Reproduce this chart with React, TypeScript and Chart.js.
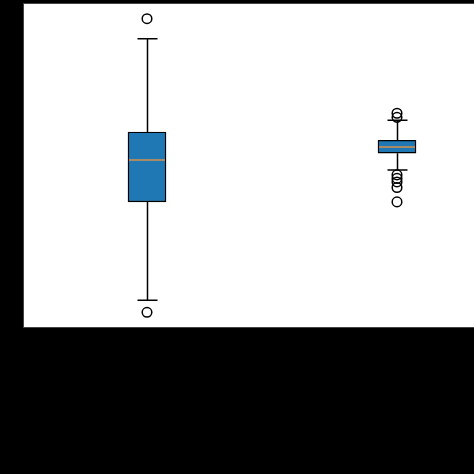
import { useEffect, useRef } from 'react'
import { Chart, registerables } from 'chart.js'

Chart.register(...registerables)

// box positions on the x axis
const positions = [1, 2]

// five-number summaries
const whiskerLow = [0.41, 4.85]
const q1 = [3.76, 5.42]
const median = [5.19, 5.63]
const q3 = [6.14, 5.86]
const whiskerHigh = [9.32, 6.54]

// fliers per box
const outliersA = [10.0, 0.0]
const outliersB = [6.78, 6.64, 4.68, 4.56, 4.44, 4.25, 3.76]

const boxFill = '#1f77b4'
const medianColor = '#d9904a'

const boxPlotPlugin = {
  id: 'boxPlotExtras',
  beforeDraw(chart: any) {
    const { ctx, chartArea } = chart
    ctx.save()
    ctx.fillStyle = '#000'
    ctx.fillRect(0, 0, chart.width, chart.height)
    ctx.fillStyle = '#fff'
    ctx.fillRect(chartArea.left, chartArea.top, chartArea.right - chartArea.left, chartArea.bottom - chartArea.top)
    ctx.restore()
  },
  beforeDatasetsDraw(chart: any) {
    const { ctx } = chart
    const x = chart.scales.x
    const y = chart.scales.y
    ctx.save()
    ctx.strokeStyle = '#000'
    ctx.lineWidth = 1.5
    positions.forEach((p, i) => {
      const cx = Math.round(x.getPixelForValue(p)) + 0.5
      const capHalf = 10
      ctx.beginPath()
      ctx.moveTo(cx, y.getPixelForValue(q3[i]))
      ctx.lineTo(cx, y.getPixelForValue(whiskerHigh[i]))
      ctx.moveTo(cx, y.getPixelForValue(q1[i]))
      ctx.lineTo(cx, y.getPixelForValue(whiskerLow[i]))
      ctx.moveTo(cx - capHalf, y.getPixelForValue(whiskerHigh[i]))
      ctx.lineTo(cx + capHalf, y.getPixelForValue(whiskerHigh[i]))
      ctx.moveTo(cx - capHalf, y.getPixelForValue(whiskerLow[i]))
      ctx.lineTo(cx + capHalf, y.getPixelForValue(whiskerLow[i]))
      ctx.stroke()
    })
    ctx.restore()
  },
  afterDatasetsDraw(chart: any) {
    const { ctx, chartArea } = chart
    const x = chart.scales.x
    const y = chart.scales.y
    ctx.save()
    ctx.strokeStyle = medianColor
    ctx.lineWidth = 1.5
    positions.forEach((p, i) => {
      const cx = x.getPixelForValue(p)
      const my = y.getPixelForValue(median[i])
      ctx.beginPath()
      ctx.moveTo(cx - 18, my)
      ctx.lineTo(cx + 18, my)
      ctx.stroke()
    })
    ctx.strokeStyle = '#444'
    ctx.lineWidth = 1
    ctx.strokeRect(chartArea.left - 0.5, chartArea.top - 0.5, chartArea.right - chartArea.left + 1, chartArea.bottom - chartArea.top + 1)
    ctx.restore()
  }
}

export default function App() {
  const chartRef = useRef<HTMLCanvasElement>(null)
  const chartInstance = useRef<Chart | null>(null)

  useEffect(() => {
    if (!chartRef.current) return
    if (chartInstance.current) chartInstance.current.destroy()

    const flierPoints = [
      ...outliersA.map((v) => ({ x: positions[0], y: v })),
      ...outliersB.map((v) => ({ x: positions[1], y: v }))
    ]

    chartInstance.current = new Chart(chartRef.current, {
      type: 'bar',
      data: {
        datasets: [
          {
            type: 'bar',
            data: positions.map((p, i) => ({ x: p, y: [q1[i], q3[i]] })) as any,
            backgroundColor: boxFill,
            borderColor: '#000',
            borderWidth: 1.4,
            borderSkipped: false,
            barThickness: 38
          },
          {
            type: 'scatter',
            data: flierPoints,
            pointStyle: 'circle',
            pointRadius: 4.8,
            pointBackgroundColor: 'rgba(0,0,0,0)',
            pointBorderColor: '#000',
            pointBorderWidth: 1.5,
            showLine: false
          } as any
        ]
      },
      options: {
        animation: false,
        responsive: false,
        devicePixelRatio: 1,
        layout: { autoPadding: false, padding: { left: 24, top: 4, right: 0, bottom: 147 } },
        scales: {
          x: { type: 'linear', min: 0.508, max: 2.308, offset: false, grid: { offset: false }, display: false },
          y: { type: 'linear', min: -0.5, max: 10.5, display: false }
        },
        plugins: {
          legend: { display: false },
          tooltip: { enabled: false }
        }
      },
      plugins: [boxPlotPlugin]
    })

    return () => {
      if (chartInstance.current) chartInstance.current.destroy()
    }
  }, [])

  return (
    <div style={{ position: 'fixed', left: 0, top: 0, width: 474, height: 474, background: '#000' }}>
      <canvas ref={chartRef} width={474} height={474} />
    </div>
  )
}
